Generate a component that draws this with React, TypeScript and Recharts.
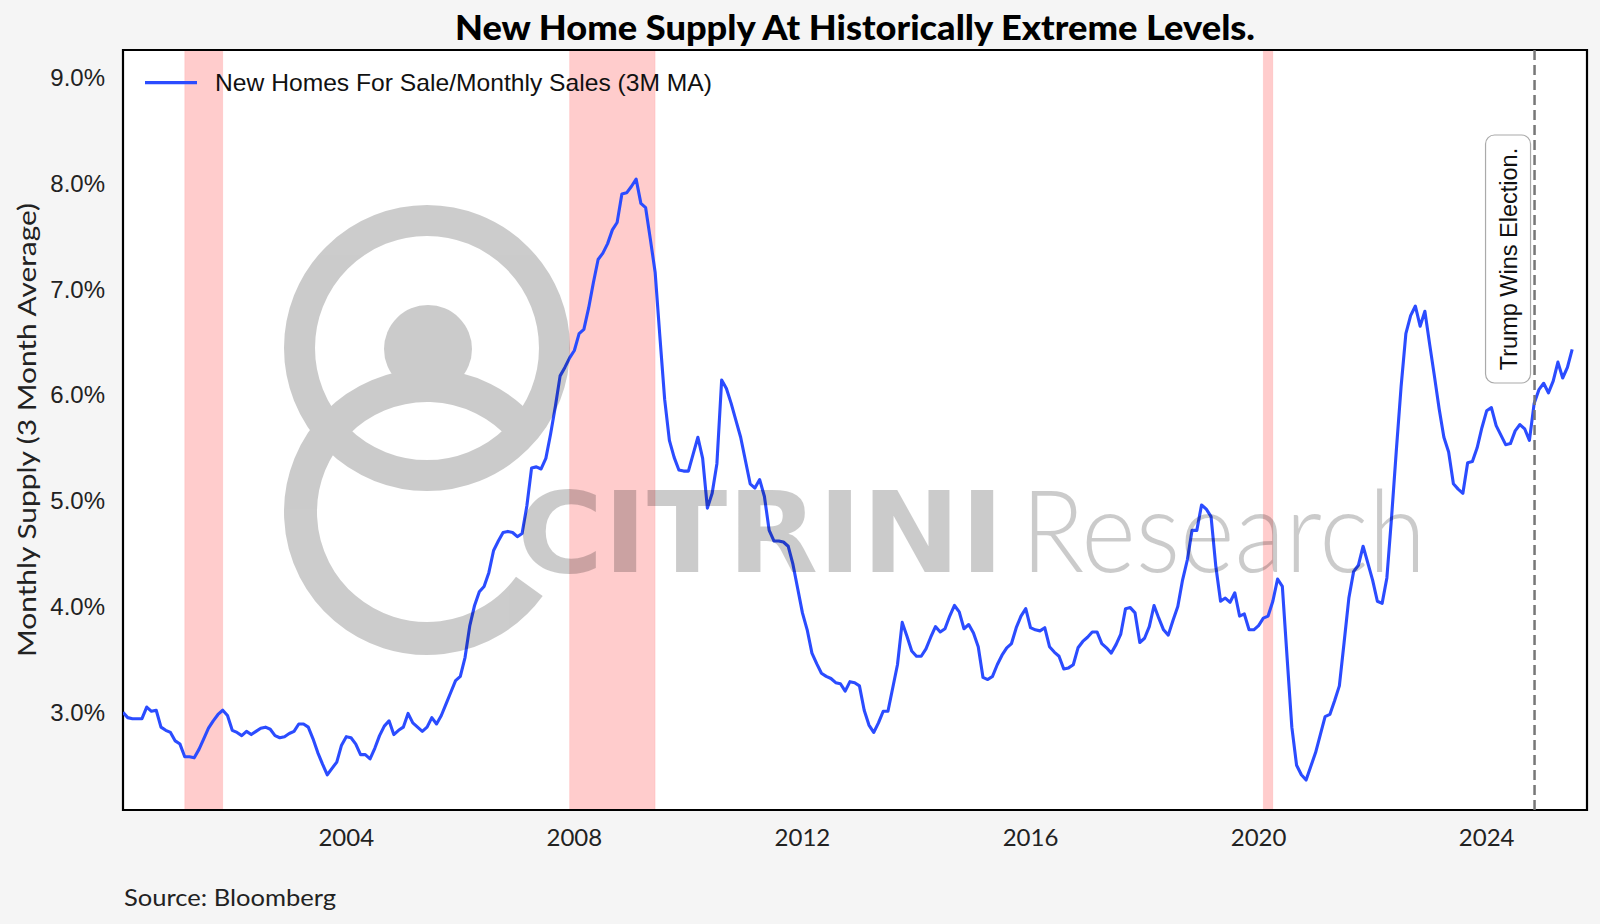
import React from 'react';
import {
  LineChart,
  Line,
  XAxis,
  YAxis,
  ReferenceArea,
  ReferenceLine,
} from 'recharts';

// Months supply (3M MA), monthly, Jan 2000 - Jun 2025
const supply2000s = [
  3.0, 2.95, 2.94, 2.94, 2.94, 3.05, 3.01, 3.02, 2.86, 2.83, 2.81, 2.73,
  2.7, 2.58, 2.58, 2.57, 2.65, 2.75, 2.85, 2.92, 2.98, 3.02, 2.97, 2.83,
  2.81, 2.78, 2.82, 2.79, 2.82, 2.85, 2.86, 2.84, 2.78, 2.76, 2.77, 2.8,
  2.82, 2.89, 2.89, 2.86, 2.75, 2.62, 2.51, 2.41, 2.47, 2.53, 2.69, 2.77,
  2.76, 2.7, 2.6, 2.6, 2.56, 2.66, 2.78, 2.87, 2.92, 2.79, 2.83, 2.86,
  2.99, 2.9, 2.86, 2.82, 2.86, 2.95, 2.89, 2.97, 3.08, 3.19, 3.3, 3.34,
  3.52, 3.82, 4.01, 4.14, 4.19, 4.32, 4.53, 4.62, 4.7, 4.71, 4.7, 4.66,
  4.69, 4.95, 5.31, 5.32, 5.3, 5.4, 5.63, 5.89, 6.18, 6.26, 6.35, 6.42,
  6.58, 6.62, 6.82, 7.06, 7.28, 7.34, 7.43, 7.56, 7.63, 7.9, 7.91, 7.97,
  8.04, 7.81, 7.77, 7.47, 7.16, 6.55, 5.96, 5.57, 5.41, 5.29, 5.28, 5.28,
];
const supply2010s = [
  5.44, 5.6, 5.4, 4.93, 5.07, 5.35, 6.14, 6.06, 5.92, 5.76, 5.6, 5.38,
  5.16, 5.12, 5.2, 5.04, 4.72, 4.62, 4.62, 4.61, 4.57, 4.4, 4.17, 3.94,
  3.78, 3.56, 3.46, 3.37, 3.34, 3.32, 3.28, 3.27, 3.2, 3.29, 3.28, 3.25,
  3.02, 2.88, 2.81, 2.9, 3.01, 3.01, 3.23, 3.45, 3.85, 3.72, 3.58, 3.53,
  3.53, 3.6, 3.71, 3.81, 3.76, 3.79, 3.91, 4.01, 3.95, 3.79, 3.83, 3.75,
  3.62, 3.33, 3.31, 3.34, 3.45, 3.54, 3.61, 3.65, 3.8, 3.91, 3.98, 3.8,
  3.78, 3.77, 3.8, 3.62, 3.57, 3.53, 3.41, 3.42, 3.45, 3.61, 3.67, 3.71,
  3.76, 3.76, 3.65, 3.61, 3.56, 3.64, 3.74, 3.98, 3.99, 3.94, 3.66, 3.7,
  3.81, 4.01, 3.89, 3.78, 3.73, 3.87, 4.0, 4.25, 4.44, 4.72, 4.72, 4.96,
  4.92, 4.85, 4.38, 4.05, 4.08, 4.04, 4.13, 3.91, 3.93, 3.78, 3.78, 3.82,
];
const supply2020s = [
  3.89, 3.91, 4.05, 4.26, 4.19, 3.52, 2.86, 2.5, 2.41, 2.36, 2.49, 2.62,
  2.79, 2.96, 2.98, 3.11, 3.25, 3.66, 4.08, 4.33, 4.39, 4.57, 4.41, 4.25,
  4.05, 4.03, 4.27, 4.85, 5.48, 6.08, 6.58, 6.75, 6.84, 6.65, 6.79, 6.48,
  6.18, 5.87, 5.6, 5.46, 5.16, 5.11, 5.07, 5.36, 5.37, 5.5, 5.69, 5.85,
  5.88, 5.71, 5.62, 5.53, 5.54, 5.66, 5.72, 5.68, 5.57, 5.92, 6.05, 6.11,
  6.02, 6.13, 6.31, 6.16, 6.26, 6.43,
];
const START_YEAR = 2000;

const recessions = [
  ['2001-03', '2001-11'],
  ['2007-12', '2009-06'],
  ['2020-02', '2020-04'],
];
const ELECTION = 2024.84;

const xTicks = [2004, 2008, 2012, 2016, 2020, 2024];
const yTicks = [3, 4, 5, 6, 7, 8, 9];

const X_DOMAIN: [number, number] = [2000.084, 2025.76];
const Y_DOMAIN: [number, number] = [2.077, 9.26];

const BLUE = '#2b4cff';
const SANS = "'Liberation Sans', Arial, Helvetica, sans-serif";
const AVENIR = "Lato, 'Noto Sans', sans-serif";

const toYear = (ym: string) => {
  const [y, m] = ym.split('-').map(Number);
  return y + (m - 1) / 12;
};

const data = [...supply2000s, ...supply2010s, ...supply2020s].map((v, i) => ({
  t: START_YEAR + (i + 1) / 12,
  v,
}));

function ElectionLabel(props: any) {
  const vb = props.viewBox;
  if (!vb) return null;
  const bx = vb.x - 49;
  const by = vb.y + 85;
  const bw = 45;
  const bh = 248;
  return (
    <g>
      <rect x={bx} y={by} width={bw} height={bh} rx={9} fill="#fff" stroke="#aaa" strokeWidth={1.2} />
      <text
        transform={`translate(${bx + bw / 2 + 1}, ${by + bh / 2}) rotate(-90)`}
        textAnchor="middle"
        dominantBaseline="central"
        fontSize={23.5}
        fontFamily={SANS}
        fill="#111"
      >
        Trump Wins Election.
      </text>
    </g>
  );
}

// lower "C" arc of the logo
function arcPath(cx: number, cy: number, r: number, a0: number, a1: number) {
  const rad = (a: number) => (a * Math.PI) / 180;
  const x0 = cx + r * Math.cos(rad(a0));
  const y0 = cy + r * Math.sin(rad(a0));
  const x1 = cx + r * Math.cos(rad(a1));
  const y1 = cy + r * Math.sin(rad(a1));
  return `M ${x0} ${y0} A ${r} ${r} 0 1 0 ${x1} ${y1}`;
}

function Overlay() {
  return (
    <svg
      width={1600}
      height={924}
      style={{ position: 'absolute', left: 0, top: 0, pointerEvents: 'none' }}
    >
      <text
        x={855}
        y={40}
        textAnchor="middle"
        fontFamily={AVENIR}
        fontWeight={900}
        fontSize={35}
        textLength={800}
        lengthAdjust="spacingAndGlyphs"
        fill="#000"
      >
        New Home Supply At Historically Extreme Levels.
      </text>
      <text
        transform="translate(35.5, 430) rotate(-90)"
        textAnchor="middle"
        fontFamily={AVENIR}
        fontSize={25}
        textLength={454}
        lengthAdjust="spacingAndGlyphs"
        fill="#222"
      >
        Monthly Supply (3 Month Average)
      </text>
      <text
        x={124}
        y={906}
        fontFamily={AVENIR}
        fontSize={24}
        textLength={212}
        lengthAdjust="spacingAndGlyphs"
        fill="#222"
      >
        Source: Bloomberg
      </text>

      {/* legend */}
      <line x1={145} y1={82.7} x2={197} y2={82.7} stroke={BLUE} strokeWidth={3.2} />
      <text
        x={215}
        y={91}
        fontFamily={SANS}
        fontSize={24}
        textLength={497}
        lengthAdjust="spacingAndGlyphs"
        fill="#111"
      >
        New Homes For Sale/Monthly Sales (3M MA)
      </text>

      {/* watermark */}
      <g opacity={0.2}>
        <circle cx={427} cy={348} r={127.5} fill="none" stroke="#000" strokeWidth={31} />
        <circle cx={428} cy={349} r={44} fill="#000" />
        <path d={arcPath(427, 512, 126.5, -41, 36)} fill="none" stroke="#000" strokeWidth={33} />
        <text
          x={517}
          y={572}
          fontFamily="'DejaVu Sans', sans-serif"
          fontWeight={700}
          fontSize={112}
          textLength={487}
          lengthAdjust="spacingAndGlyphs"
          fill="#000"
        >
          CITRINI
        </text>
        <text
          x={1021}
          y={572}
          fontFamily="Lato, Inter, sans-serif"
          fontWeight={300}
          fontSize={114}
          textLength={405}
          lengthAdjust="spacingAndGlyphs"
          fill="#000"
        >
          Research
        </text>
      </g>
    </svg>
  );
}

export default function App() {
  return (
    <div
      style={{
        position: 'absolute',
        left: 0,
        top: 0,
        width: 1600,
        height: 924,
        background: '#f5f5f5',
      }}
    >
      <LineChart
        width={1600}
        height={924}
        data={data}
        margin={{ top: 50, right: 13, bottom: 74, left: 23 }}
      >
        <ReferenceArea
          x1={X_DOMAIN[0]}
          x2={X_DOMAIN[1]}
          y1={Y_DOMAIN[0]}
          y2={Y_DOMAIN[1]}
          fill="#ffffff"
          fillOpacity={1}
          stroke="none"
        />
        {recessions.map(([a, b]) => (
          <ReferenceArea
            key={a}
            x1={toYear(a)}
            x2={toYear(b)}
            y1={Y_DOMAIN[0]}
            y2={Y_DOMAIN[1]}
            fill="#ff0000"
            fillOpacity={0.2}
            stroke="#ff0000"
            strokeOpacity={0.08}
          />
        ))}
        <XAxis
          dataKey="t"
          type="number"
          domain={X_DOMAIN}
          allowDataOverflow
          ticks={xTicks}
          height={40}
          tickLine={false}
          axisLine={false}
          tickSize={6}
          tickMargin={13}
          tick={{ fontFamily: AVENIR, fontSize: 24, fill: '#222' }}
        />
        <YAxis
          domain={Y_DOMAIN}
          allowDataOverflow
          ticks={yTicks}
          width={100}
          tickLine={false}
          axisLine={false}
          tickSize={6}
          tickMargin={12}
          tickFormatter={(v: number) => `${v.toFixed(1)}%`}
          tick={{ fontFamily: SANS, fontSize: 24, fill: '#222' }}
        />
        <Line
          type="linear"
          dataKey="v"
          stroke={BLUE}
          strokeWidth={3.1}
          strokeLinejoin="round"
          dot={false}
          isAnimationActive={false}
        />
        <ReferenceLine
          x={ELECTION}
          stroke="#777"
          strokeWidth={2.5}
          strokeDasharray="10 5"
          label={(p: any) => <ElectionLabel {...p} />}
        />
        <ReferenceArea
          x1={X_DOMAIN[0]}
          x2={X_DOMAIN[1]}
          y1={Y_DOMAIN[0]}
          y2={Y_DOMAIN[1]}
          fill="none"
          stroke="#000"
          strokeWidth={2.2}
        />
      </LineChart>
      <Overlay />
    </div>
  );
}
